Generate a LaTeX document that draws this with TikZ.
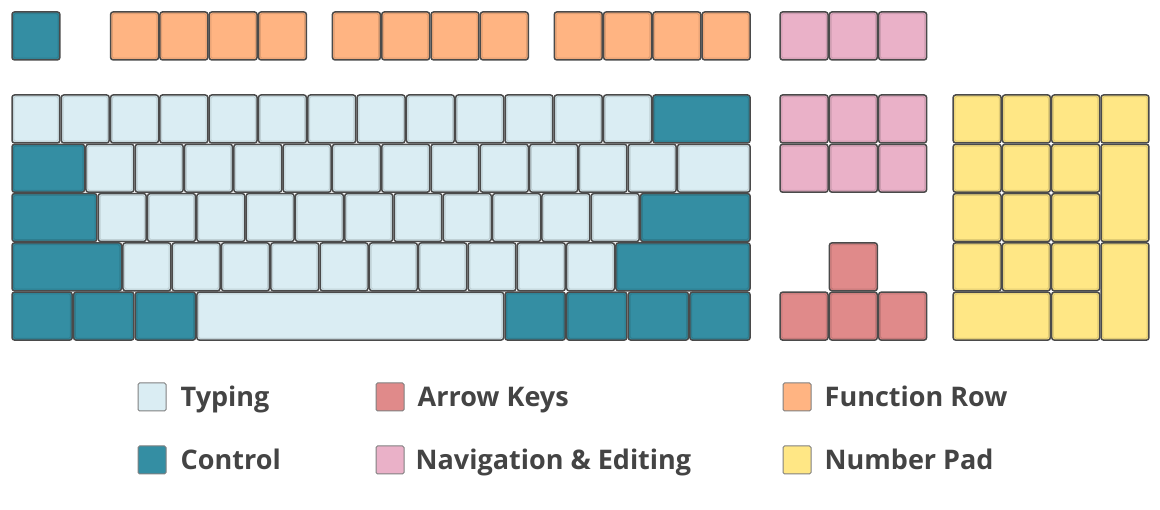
\documentclass[tikz,border=0pt]{standalone}
\usepackage{fontspec}
\setsansfont{Open Sans}
\usetikzlibrary{positioning}

\definecolor{typing}{HTML}{DAEDF3}
\definecolor{control}{HTML}{348EA3}
\definecolor{function}{HTML}{FFB482}
\definecolor{navedit}{HTML}{EAB1C8}
\definecolor{arrowkey}{HTML}{E08A8A}
\definecolor{numpad}{HTML}{FFE785}
\definecolor{keyedge}{HTML}{4A4A4A}
\definecolor{legendtext}{HTML}{444444}

% one key: column, top, width, height (in key units), colour
\newcommand\keyat[5]{%
  \draw[keycap, fill=#5] ({12+(#1)*49.3},{#2}) rectangle ++({(#3)*49.3-1.4},{(#4)*49.3-1.4});
  \draw[keyrim, draw=#5!80!black] ({12+(#1)*49.3+1.7},{#2+1.7}) rectangle ++({(#3)*49.3-4.8},{(#4)*49.3-4.8});%
}

\begin{document}
\begin{tikzpicture}[
    x=1pt, y=-1pt,
    keycap/.style={draw=keyedge, line width=1.5pt, rounded corners=2.5pt},
    keyrim/.style={line width=1.1pt, rounded corners=1.5pt, opacity=0.6},
    legbox/.style={draw=keyedge!70, line width=1pt, rounded corners=1.5pt, minimum size=28pt, inner sep=0pt},
    legtext/.style={text=legendtext, inner sep=0pt, anchor=west, text height=19.4pt, text depth=0pt,
      font=\sffamily\bfseries\fontsize{27}{32}\selectfont}
  ]
  \useasboundingbox (0,0) rectangle (1160,510);

  % function row
  \keyat{0}{12}{1}{1}{control}
  \foreach \i in {0,...,3} {
    \keyat{2+\i}{12}{1}{1}{function}
    \keyat{6.5+\i}{12}{1}{1}{function}
    \keyat{11+\i}{12}{1}{1}{function}
  }
  \foreach \i in {0,...,2} {
    \keyat{15.58+\i}{12}{1}{1}{navedit}
  }

  % main block
  \foreach \i in {0,...,12} {
    \keyat{\i}{95}{1}{1}{typing}
  }
  \keyat{13}{95}{2}{1}{control}

  \keyat{0}{144.3}{1.5}{1}{control}
  \foreach \i in {0,...,11} {
    \keyat{1.5+\i}{144.3}{1}{1}{typing}
  }
  \keyat{13.5}{144.3}{1.5}{1}{typing}

  \keyat{0}{193.6}{1.75}{1}{control}
  \foreach \i in {0,...,10} {
    \keyat{1.75+\i}{193.6}{1}{1}{typing}
  }
  \keyat{12.75}{193.6}{2.25}{1}{control}

  \keyat{0}{242.9}{2.25}{1}{control}
  \foreach \i in {0,...,9} {
    \keyat{2.25+\i}{242.9}{1}{1}{typing}
  }
  \keyat{12.25}{242.9}{2.75}{1}{control}

  \foreach \c in {0,1.25,2.5,10,11.25,12.5,13.75} {
    \keyat{\c}{292.2}{1.25}{1}{control}
  }
  \keyat{3.75}{292.2}{6.25}{1}{typing}

  % navigation and arrows
  \foreach \i in {0,...,2} {
    \keyat{15.58+\i}{95}{1}{1}{navedit}
    \keyat{15.58+\i}{144.3}{1}{1}{navedit}
    \keyat{15.58+\i}{292.2}{1}{1}{arrowkey}
  }
  \keyat{16.58}{242.9}{1}{1}{arrowkey}

  % number pad
  \foreach \i in {0,...,3} {
    \keyat{19.09+\i}{95}{1}{1}{numpad}
  }
  \foreach \i in {0,...,2} {
    \keyat{19.09+\i}{144.3}{1}{1}{numpad}
    \keyat{19.09+\i}{193.6}{1}{1}{numpad}
    \keyat{19.09+\i}{242.9}{1}{1}{numpad}
  }
  \keyat{22.09}{144.3}{1}{2}{numpad}
  \keyat{22.09}{242.9}{1}{2}{numpad}
  \keyat{19.09}{292.2}{2}{1}{numpad}
  \keyat{21.09}{292.2}{1}{1}{numpad}

  % legend
  \node[legbox, fill=typing] (typbox) at (152,397) {};
  \node[legtext, right=14pt of typbox] (typlabel) {Typing};
  \node[legbox, fill=control] (ctlbox) at (152,460) {};
  \node[legtext, right=14pt of ctlbox] (ctllabel) {Control};
  \node[legbox, fill=arrowkey] (arrbox) at (390,397) {};
  \node[legtext, right=13pt of arrbox] (arrlabel) {Arrow Keys};
  \node[legbox, fill=navedit] (navbox) at (390,460) {};
  \node[legtext, right=11pt of navbox] (navlabel) {Navigation \& Editing};
  \node[legbox, fill=function] (fnbox) at (797,397) {};
  \node[legtext, right=13pt of fnbox] (fnlabel) {Function Row};
  \node[legbox, fill=numpad] (numbox) at (797,460) {};
  \node[legtext, right=13pt of numbox] (numlabel) {Number Pad};
\end{tikzpicture}
\end{document}
